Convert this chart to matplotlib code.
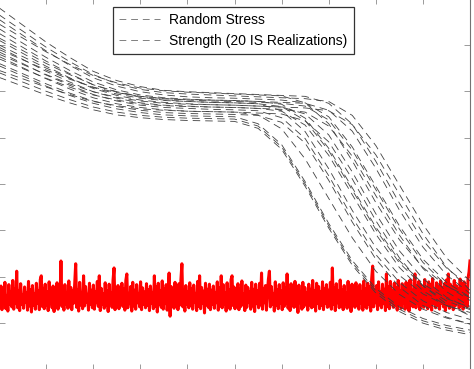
import numpy as np
import matplotlib
matplotlib.use("Agg")
import matplotlib.pyplot as plt
from matplotlib.lines import Line2D

plt.rcParams['font.family'] = ['Liberation Sans', 'DejaVu Sans']

# Strength curves (20 IS realizations), read at x = 0, 0.5, ..., 10
x_strength = np.arange(0, 10.01, 0.5)
strength = [
    [7.80, 7.43, 7.06, 6.73, 6.43, 6.23, 6.10, 6.02, 5.99, 5.97, 5.95, 5.93, 5.91, 5.89, 5.74, 5.29, 4.49, 3.59, 2.79, 2.19, 1.79],
    [7.65, 7.30, 6.95, 6.64, 6.36, 6.16, 6.04, 5.97, 5.94, 5.92, 5.90, 5.88, 5.86, 5.84, 5.78, 5.48, 4.83, 3.98, 3.13, 2.41, 1.91],
    [7.55, 7.21, 6.87, 6.56, 6.29, 6.11, 5.99, 5.92, 5.88, 5.86, 5.85, 5.83, 5.81, 5.75, 5.45, 4.80, 3.95, 3.10, 2.38, 1.88, 1.56],
    [7.45, 7.15, 6.85, 6.58, 6.34, 6.18, 6.07, 6.01, 5.98, 5.96, 5.94, 5.92, 5.90, 5.75, 5.30, 4.50, 3.60, 2.80, 2.20, 1.80, 1.55],
    [7.35, 7.04, 6.73, 6.45, 6.20, 6.03, 5.92, 5.86, 5.83, 5.81, 5.80, 5.78, 5.76, 5.74, 5.59, 5.14, 4.34, 3.44, 2.64, 2.04, 1.64],
    [7.25, 6.95, 6.65, 6.38, 6.14, 5.98, 5.87, 5.81, 5.78, 5.76, 5.75, 5.73, 5.67, 5.37, 4.72, 3.87, 3.02, 2.30, 1.80, 1.48, 1.29],
    [7.15, 6.88, 6.60, 6.36, 6.14, 5.99, 5.89, 5.84, 5.81, 5.79, 5.78, 5.76, 5.74, 5.68, 5.38, 4.73, 3.88, 3.03, 2.31, 1.81, 1.49],
    [7.10, 6.82, 6.54, 6.29, 6.06, 5.91, 5.81, 5.76, 5.73, 5.71, 5.70, 5.68, 5.66, 5.51, 5.06, 4.26, 3.36, 2.56, 1.96, 1.56, 1.31],
    [7.00, 6.75, 6.50, 6.28, 6.08, 5.94, 5.85, 5.80, 5.78, 5.76, 5.75, 5.73, 5.58, 5.13, 4.33, 3.43, 2.63, 2.03, 1.63, 1.38, 1.23],
    [6.95, 6.69, 6.43, 6.20, 5.99, 5.85, 5.75, 5.70, 5.68, 5.66, 5.65, 5.63, 5.61, 5.55, 5.25, 4.60, 3.75, 2.90, 2.18, 1.68, 1.36],
    [6.90, 6.68, 6.46, 6.26, 6.09, 5.97, 5.89, 5.84, 5.82, 5.81, 5.80, 5.78, 5.72, 5.42, 4.77, 3.92, 3.07, 2.35, 1.85, 1.53, 1.34],
    [6.85, 6.60, 6.35, 6.13, 5.93, 5.79, 5.70, 5.65, 5.63, 5.61, 5.60, 5.58, 5.43, 4.98, 4.18, 3.28, 2.48, 1.88, 1.48, 1.23, 1.08],
    [6.80, 6.58, 6.36, 6.16, 5.99, 5.87, 5.79, 5.74, 5.72, 5.71, 5.70, 5.68, 5.66, 5.64, 5.58, 5.28, 4.63, 3.78, 2.93, 2.21, 1.71],
    [6.75, 6.51, 6.27, 6.05, 5.86, 5.73, 5.65, 5.60, 5.57, 5.56, 5.55, 5.49, 5.19, 4.54, 3.69, 2.84, 2.12, 1.62, 1.30, 1.11, 0.98],
    [6.70, 6.49, 6.28, 6.09, 5.92, 5.81, 5.73, 5.69, 5.67, 5.66, 5.65, 5.63, 5.57, 5.27, 4.62, 3.77, 2.92, 2.20, 1.70, 1.38, 1.19],
    [6.60, 6.38, 6.16, 5.96, 5.79, 5.67, 5.59, 5.54, 5.52, 5.51, 5.50, 5.48, 5.33, 4.88, 4.08, 3.18, 2.38, 1.78, 1.38, 1.13, 0.98],
    [6.55, 6.33, 6.11, 5.91, 5.74, 5.62, 5.54, 5.49, 5.47, 5.46, 5.45, 5.30, 4.85, 4.05, 3.15, 2.35, 1.75, 1.35, 1.10, 0.95, 0.85],
    [6.45, 6.27, 6.09, 5.93, 5.78, 5.69, 5.62, 5.59, 5.57, 5.56, 5.55, 5.53, 5.51, 5.36, 4.91, 4.11, 3.21, 2.41, 1.81, 1.41, 1.16],
    [6.40, 6.20, 6.00, 5.82, 5.66, 5.55, 5.48, 5.44, 5.42, 5.41, 5.40, 5.25, 4.80, 4.00, 3.10, 2.30, 1.70, 1.30, 1.05, 0.90, 0.80],
    [6.30, 6.11, 5.92, 5.75, 5.60, 5.49, 5.43, 5.39, 5.37, 5.36, 5.35, 5.20, 4.75, 3.95, 3.05, 2.25, 1.65, 1.25, 1.00, 0.85, 0.75],
]

# Random stress samples
stress = [
    1.62, 1.34, 1.80, 1.29, 1.71, 1.44, 1.88, 1.31, 1.58, 1.26, 1.83, 1.40, 1.67, 1.35, 1.92, 1.30, 1.74, 1.42, 2.12, 1.33, 1.69, 1.27, 1.85, 1.41,
    1.60, 1.32, 1.78, 1.45, 1.66, 1.28, 1.90, 1.37, 1.72, 1.24, 1.81, 1.39, 1.63, 1.30, 1.86, 1.43, 1.70, 1.29, 1.94, 2.02, 1.36, 1.75, 1.31, 1.84,
    1.38, 1.68, 1.27, 1.89, 1.42, 1.73, 1.33, 1.80, 1.25, 1.65, 1.40, 1.87, 1.30, 1.76, 1.44, 2.34, 1.36, 1.70, 1.28, 1.83, 1.41, 1.64, 1.32, 1.91,
    1.35, 1.77, 1.29, 1.69, 1.43, 1.85, 2.28, 1.34, 1.72, 1.26, 1.88, 1.39, 1.66, 1.31, 2.02, 1.37, 1.79, 1.45, 1.62, 1.28, 1.86, 1.40, 1.71, 1.33,
    1.82, 1.30, 1.67, 1.44, 1.90, 1.36, 2.02, 1.27, 1.75, 1.41, 1.63, 1.32, 1.87, 1.38, 1.70, 1.25, 1.84, 1.43, 1.66, 1.34, 1.93, 2.19, 1.29, 1.73,
    1.40, 1.81, 1.31, 1.68, 1.45, 1.86, 1.36, 1.74, 1.28, 1.92, 2.06, 1.33, 1.64, 1.42, 1.79, 1.26, 1.88, 1.37, 1.71, 1.30, 1.83, 1.44, 1.62, 1.35,
    1.89, 1.29, 1.76, 1.41, 1.67, 1.33, 1.85, 1.38, 1.72, 1.27, 1.80, 1.43, 1.65, 1.31, 2.02, 1.36, 1.78, 1.24, 1.86, 1.40, 1.69, 1.34, 1.91, 1.30,
    1.74, 1.42, 1.83, 1.28, 1.66, 2.08, 1.15, 1.79, 1.37, 1.70, 1.32, 1.88, 1.44, 1.63, 1.29, 1.85, 1.39, 1.93, 2.28, 1.35, 1.72, 1.26, 1.81, 1.41,
    1.68, 1.33, 1.87, 1.38, 1.75, 1.30, 1.82, 1.45, 1.64, 1.27, 1.90, 1.36, 2.02, 1.31, 1.77, 1.43, 1.69, 1.22, 1.86, 1.39, 1.73, 1.34, 1.84, 1.29,
    1.71, 1.40, 1.80, 1.32, 1.66, 1.44, 1.89, 1.28, 1.76, 1.37, 2.02, 1.33, 1.83, 1.41, 1.65, 1.26, 1.87, 1.35, 1.72, 1.30, 1.94, 2.02, 1.38, 1.78,
    1.31, 1.69, 1.43, 1.85, 1.29, 1.74, 1.36, 1.91, 1.40, 1.63, 1.27, 1.82, 1.34, 1.77, 1.45, 1.68, 1.30, 1.88, 1.37, 1.73, 1.25, 1.84, 1.42, 1.70,
    1.33, 1.86, 1.39, 2.08, 1.30, 1.75, 1.44, 1.81, 1.28, 1.67, 1.95, 2.12, 1.35, 1.79, 1.41, 1.64, 1.26, 1.89, 1.38, 1.72, 1.31, 1.83, 1.43, 1.69,
    1.29, 1.87, 1.36, 1.76, 1.42, 2.06, 1.32, 1.71, 1.27, 1.85, 1.40, 1.66, 1.34, 1.90, 1.37, 1.74, 1.23, 1.82, 1.44, 1.68, 1.30, 1.88, 1.35, 1.77,
    1.41, 1.65, 1.28, 1.84, 1.39, 1.73, 1.33, 1.92, 1.36, 1.70, 1.26, 1.86, 1.43, 1.79, 1.31, 1.67, 1.38, 1.89, 1.29, 1.75, 1.42, 1.83, 1.34, 1.71,
    1.37, 1.88, 1.30, 2.19, 1.40, 1.76, 1.27, 1.85, 1.44, 1.69, 1.33, 1.93, 1.36, 1.72, 1.29, 1.81, 1.42, 1.66, 1.32, 1.90, 1.39, 1.78, 1.25, 1.84,
    1.41, 1.70, 1.34, 1.87, 1.38, 1.75, 1.30, 1.83, 1.43, 1.68, 1.28, 1.91, 1.37, 1.74, 1.32, 1.86, 1.40, 1.79, 1.26, 1.95, 2.23, 1.35, 1.72, 1.44,
    1.81, 1.29, 1.89, 1.39, 1.67, 1.33, 1.84, 1.42, 1.73, 1.27, 2.06, 1.36, 1.78, 1.31, 1.90, 1.44, 1.70, 1.34, 1.86, 1.38, 1.76, 1.28, 1.92, 1.40,
    1.69, 1.32, 1.85, 1.43, 1.74, 1.30, 1.88, 1.37, 1.80, 1.26, 1.93, 1.41, 1.71, 1.35, 1.86, 2.06, 1.33, 1.78, 1.44, 1.90, 1.29, 1.82, 1.39, 1.75,
    1.34, 1.94, 1.40, 1.77, 1.31, 1.89, 1.36, 1.83, 1.28, 1.96, 1.42, 1.72, 1.33, 1.87, 1.38, 1.80, 1.30, 1.91, 1.43, 1.76, 1.35, 1.85, 1.27, 1.93,
    1.39, 2.06, 1.32, 1.84, 1.41, 1.78, 1.29, 1.92, 1.37, 1.81, 1.44, 1.74, 1.33, 1.95, 1.38, 1.86, 1.30, 1.89, 1.42, 1.79, 1.35, 1.97, 2.10, 2.34,
]
x_stress = np.linspace(0, 10, len(stress))

W, H = 474, 369
fig = plt.figure(figsize=(W / 100, H / 100), dpi=100)
# axes box runs just past the left/top/bottom edges (cropped figure)
ax = fig.add_axes([-1 / W, -0.5 / H, 471 / W, 371 / H])

ax.plot(x_stress, stress, color=(1, 0, 0), linewidth=2.2)
for curve in strength:
    ax.plot(x_strength, curve, color='0.25', linewidth=0.6, dashes=(9, 6))

ax.set_xlim(0, 10)
ax.set_ylim(0, 8)
ax.set_xticks(np.arange(0, 11, 1))
ax.set_yticks(np.arange(0, 9, 1))
ax.tick_params(which='both', direction='in', length=4, width=0.5, color='0.45',
               top=True, right=True, labelbottom=False, labelleft=False)
for side in ['left', 'top', 'bottom']:
    ax.spines[side].set_visible(False)
ax.spines['right'].set_color('0.45')
ax.spines['right'].set_linewidth(0.8)

handles = [Line2D([], [], color='0.5', linewidth=0.7, dashes=(7, 5)),
           Line2D([], [], color='0.5', linewidth=0.7, dashes=(7, 5))]
leg = fig.legend(handles, ['Random Stress', 'Strength (20 IS Realizations)'],
                 loc='upper left', bbox_to_anchor=(113 / W, 1 - 7 / H),
                 fontsize=10, frameon=True, fancybox=False, framealpha=1,
                 edgecolor='0.2', borderpad=0.45, handlelength=2.9,
                 handletextpad=0.7, labelspacing=0.45, borderaxespad=0)
leg.get_frame().set_linewidth(0.9)

fig.savefig("out.png", dpi=100)
